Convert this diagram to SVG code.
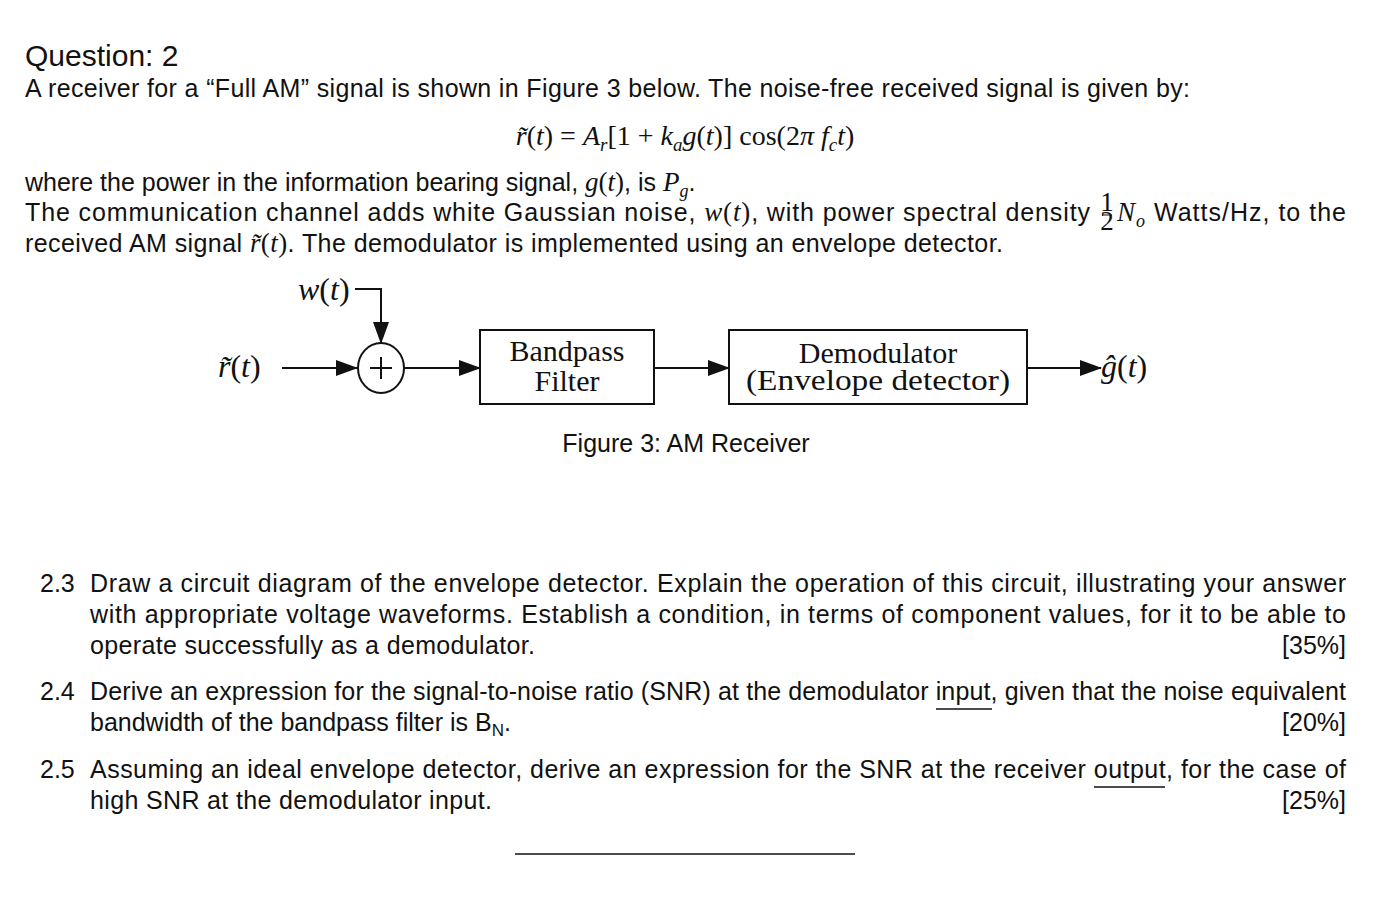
<svg xmlns="http://www.w3.org/2000/svg" width="1400" height="919" viewBox="0 0 1400 919">
<style>
.s{font-family:"Liberation Sans",Arial,sans-serif;font-size:25px;fill:#111}
.m{font-family:"Liberation Serif","Times New Roman",serif;font-size:27px;fill:#111}
.i{font-style:italic}
.ln{stroke:#111;stroke-width:2;fill:none}
</style>
<defs><marker id="a" markerWidth="22" markerHeight="16" refX="21" refY="8" orient="auto" markerUnits="userSpaceOnUse"><path d="M0,0L22,8L0,16Z" fill="#111"/></marker></defs>
<rect width="1400" height="919" fill="#fff"/>
<text class="s" x="25" y="66" style="font-size:30px">Question: 2</text>
<text class="s" x="25" y="97" textLength="1165" lengthAdjust="spacing">A receiver for a “Full AM” signal is shown in Figure 3 below. The noise-free received signal is given by:</text>
<text class="m" x="685" y="145" text-anchor="middle" style="font-size:28px"><tspan class="i">r̃</tspan>(<tspan class="i">t</tspan>) = <tspan class="i">A<tspan font-size="19" dy="6">r</tspan></tspan><tspan dy="-6">[1 + </tspan><tspan class="i">k<tspan font-size="19" dy="6">a</tspan></tspan><tspan class="i" dy="-6">g</tspan>(<tspan class="i">t</tspan>)] cos(2<tspan class="i">π f<tspan font-size="19" dy="6">c</tspan></tspan><tspan class="i" dy="-6">t</tspan>)</text>
<text class="s" x="25" y="191">where the power in the information bearing signal, <tspan class="m i">g</tspan><tspan class="m">(</tspan><tspan class="m i">t</tspan><tspan class="m">)</tspan>, is <tspan class="m i">P<tspan font-size="18" dy="6">g</tspan></tspan><tspan dy="-6">.</tspan></text>
<text class="s" x="25" y="221" textLength="1065" lengthAdjust="spacing">The communication channel adds white Gaussian noise, <tspan class="m i">w</tspan><tspan class="m">(</tspan><tspan class="m i">t</tspan><tspan class="m">)</tspan>, with power spectral density</text>
<text class="m" x="1107" y="211" font-size="14" text-anchor="middle">1</text>
<line x1="1102" y1="215" x2="1112" y2="215" stroke="#111" stroke-width="1"/>
<text class="m" x="1107" y="230" font-size="14" text-anchor="middle">2</text>
<text class="s" x="1117" y="221" textLength="229" lengthAdjust="spacing"><tspan class="m i">N<tspan font-size="18" dy="6">o</tspan></tspan><tspan dy="-6"> Watts/Hz, to the</tspan></text>
<text class="s" x="25" y="252" textLength="978" lengthAdjust="spacing">received AM signal <tspan class="m i">r̃</tspan><tspan class="m">(</tspan><tspan class="m i">t</tspan><tspan class="m">)</tspan>. The demodulator is implemented using an envelope detector.</text>

<g id="connectors">
<path class="ln" d="M355,289H381V343" marker-end="url(#a)"/>
<line class="ln" x1="282" y1="368" x2="357" y2="368" marker-end="url(#a)"/>
<line class="ln" x1="404" y1="368" x2="480" y2="368" marker-end="url(#a)"/>
<line class="ln" x1="655" y1="368" x2="729" y2="368" marker-end="url(#a)"/>
<line class="ln" x1="1028" y1="368" x2="1101" y2="368" marker-end="url(#a)"/>
</g>
<g id="w"><text class="m i" x="298" y="300" style="font-size:32px">w<tspan font-style="normal">(</tspan>t<tspan font-style="normal">)</tspan></text></g>
<g id="r"><text class="m i" x="218" y="377" style="font-size:32px">r̃<tspan font-style="normal">(</tspan>t<tspan font-style="normal">)</tspan></text></g>
<g id="sum"><ellipse class="ln" cx="381" cy="368" rx="23" ry="25"/><path class="ln" d="M370,368H392M381,357V379"/></g>
<g id="bpf"><rect class="ln" x="480" y="330" width="174" height="74"/>
<text class="m" x="567" y="361" text-anchor="middle" style="font-size:30px">Bandpass</text>
<text class="m" x="567" y="391" text-anchor="middle" style="font-size:30px">Filter</text></g>
<g id="demod"><rect class="ln" x="729" y="330" width="298" height="74"/>
<text class="m" x="878" y="363" text-anchor="middle" style="font-size:30px">Demodulator</text>
<text class="m" x="878" y="390" text-anchor="middle" textLength="264" lengthAdjust="spacingAndGlyphs" style="font-size:30px">(Envelope detector)</text></g>
<g id="g"><text class="m i" x="1101" y="377" style="font-size:32px">ĝ<tspan font-style="normal">(</tspan>t<tspan font-style="normal">)</tspan></text></g>
<text class="s" x="686" y="452" text-anchor="middle" style="font-size:25px">Figure 3: AM Receiver</text>

<text class="s" x="40" y="592">2.3</text>
<text class="s" x="90" y="592" textLength="1256" lengthAdjust="spacing">Draw a circuit diagram of the envelope detector.  Explain the operation of this circuit, illustrating your answer</text>
<text class="s" x="90" y="623" textLength="1256" lengthAdjust="spacing">with appropriate voltage waveforms.  Establish a condition, in terms of component values, for it to be able to</text>
<text class="s" x="90" y="654" textLength="445" lengthAdjust="spacing">operate successfully as a demodulator.</text>
<text class="s" x="1346" y="654" text-anchor="end">[35%]</text>
<text class="s" x="40" y="700">2.4</text>
<text class="s" x="90" y="700" textLength="1256" lengthAdjust="spacing">Derive an expression for the signal-to-noise ratio (SNR) at the demodulator input, given that the noise equivalent</text>
<line x1="936" y1="709" x2="992" y2="709" stroke="#111" stroke-width="1.5"/>
<text class="s" x="90" y="731">bandwidth of the bandpass filter is B<tspan font-size="17" dy="5">N</tspan><tspan dy="-5">.</tspan></text>
<text class="s" x="1346" y="731" text-anchor="end">[20%]</text>
<text class="s" x="40" y="778">2.5</text>
<text class="s" x="90" y="778" textLength="1256" lengthAdjust="spacing">Assuming an ideal envelope detector, derive an expression for the SNR at the receiver output, for the case of</text>
<line x1="1094" y1="787" x2="1165" y2="787" stroke="#111" stroke-width="1.5"/>
<text class="s" x="90" y="809" textLength="402" lengthAdjust="spacing">high SNR at the demodulator input.</text>
<text class="s" x="1346" y="809" text-anchor="end">[25%]</text>
<line x1="515" y1="854" x2="855" y2="854" stroke="#111" stroke-width="1.5"/>
</svg>
